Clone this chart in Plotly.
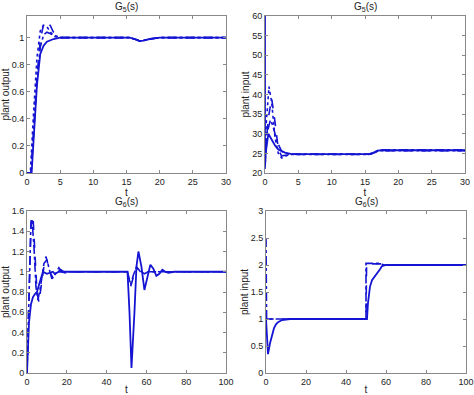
import plotly.graph_objects as go

BLUE = "#1414d2"

# ---------- G5 plant output ----------
t5o_solid = [0, 0.7, 1.0, 1.5, 2, 2.5, 3, 4, 5, 6, 15.5, 16.5, 17, 17.5, 18.5, 20, 30]
y5o_solid = [0, 0, 0.25, 0.65, 0.88, 0.94, 0.97, 0.99, 1.0, 1.0, 1.0, 0.985, 0.975, 0.978, 0.99, 1.0, 1.0]
t5o_dash = [0, 0.6, 1, 1.5, 2, 2.5, 3, 3.5, 4, 4.5, 5, 6, 15.5, 16.5, 17, 17.5, 18.5, 20, 30]
y5o_dash = [0, 0, 0.3, 0.7, 0.98, 1.1, 1.12, 1.09, 1.04, 1.01, 1.0, 1.0, 1.0, 0.985, 0.975, 0.978, 0.99, 1.0, 1.0]
t5o_dot = [0, 0.5, 1, 1.5, 2, 2.5, 3, 3.5, 4, 5, 6, 15.5, 16.5, 17, 17.5, 18.5, 20, 30]
y5o_dot = [0, 0, 0.45, 0.85, 1.05, 1.09, 1.08, 1.04, 1.01, 1.0, 1.0, 1.0, 0.985, 0.975, 0.978, 0.99, 1.0, 1.0]
t5o_dd = [0, 0.6, 1, 1.5, 2, 2.5, 3, 3.5, 4, 4.5, 5, 6, 15.5, 16.5, 17, 17.5, 18.5, 20, 30]
y5o_dd = [0, 0, 0.3, 0.7, 0.93, 1.02, 1.04, 1.03, 1.02, 1.01, 1.0, 1.0, 1.0, 0.985, 0.975, 0.978, 0.99, 1.0, 1.0]

# ---------- G5 plant input ----------
t5i_solid = [0, 0, 0.1, 0.5, 1, 1.5, 2, 3, 4, 15.5, 16, 16.5, 17, 17.5, 30]
y5i_solid = [60, 22, 25, 30, 28.5, 27, 26, 25.2, 24.8, 24.8, 25.0, 25.4, 25.7, 25.8, 25.8]
t5i_dash = [0, 0.2, 0.5, 1, 1.5, 2, 2.5, 3, 4, 15.5, 16, 16.5, 17, 17.5, 30]
y5i_dash = [21, 28, 34, 39, 33, 26, 24.3, 24.5, 24.7, 24.7, 24.9, 25.3, 25.6, 25.7, 25.7]
t5i_dot = [0, 0.2, 0.6, 1, 1.5, 2, 2.5, 3, 3.5, 4, 15.5, 16, 16.5, 17, 17.5, 30]
y5i_dot = [22, 33, 42, 38, 29, 25, 23.8, 24.2, 24.6, 24.7, 24.7, 24.9, 25.3, 25.6, 25.7, 25.7]
t5i_dd = [0, 0.3, 0.8, 1.2, 1.8, 2.5, 3.5, 15.5, 16, 16.5, 17, 17.5, 30]
y5i_dd = [22, 30, 33.5, 32, 28, 25.5, 24.8, 24.8, 25.0, 25.4, 25.8, 25.9, 25.9]

# ---------- G6 plant output ----------
t6o_solid = [0, 1, 2, 3, 4, 5, 6, 7, 8, 10, 12, 13, 14, 16, 50, 50.5, 51.5, 52.5, 54, 55, 56,
             57.5, 59, 60, 62, 63.5, 65, 66.5, 68, 69.5, 71, 74, 100]
y6o_solid = [0, 0.5, 0.68, 0.75, 0.78, 0.8, 0.87, 0.95, 1.0, 0.98, 0.99, 1.0, 0.98, 1.0, 1.0, 1.0,
             0.6, 0.05, 0.6, 1.05, 1.2, 1.05, 0.82, 0.9, 1.07, 1.03, 0.96, 0.98, 1.02, 1.0, 0.99, 1.0, 1.0]
t6o_dash = [0, 1, 2, 3, 4, 5, 6, 7, 8.5, 9.5, 11, 12.5, 14, 16, 17.5, 19, 21, 50, 50.5, 52,
            53.5, 55, 57, 58.5, 60, 100]
y6o_dash = [0, 0.8, 1.45, 1.55, 1.2, 0.8, 0.7, 0.85, 1.05, 1.15, 1.05, 0.93, 0.97, 1.04, 1.0,
            0.98, 1.0, 1.0, 1.0, 0.85, 0.95, 1.05, 1.0, 0.97, 1.0, 1.0]
t6o_dd = [0, 1, 2, 2.5, 3.5, 4.5, 5.5, 7, 8.5, 10, 11.5, 13, 15, 17, 19, 21, 50, 50.5, 52,
          53.5, 55, 57, 59, 61, 100]
y6o_dd = [0, 0.9, 1.5, 1.52, 1.25, 0.85, 0.72, 0.88, 1.08, 1.12, 1.0, 0.94, 1.0, 1.02, 0.99, 1.0,
          1.0, 1.0, 0.87, 0.97, 1.04, 1.01, 0.98, 1.0, 1.0]

# ---------- G6 plant input ----------
t6i_solid = [0, 0.5, 1, 2, 3, 4, 5, 6, 8, 10, 12, 50, 50.5, 51, 52, 53, 54, 55, 56, 57, 58, 60, 100]
y6i_solid = [1.0, 0.5, 0.35, 0.55, 0.72, 0.83, 0.9, 0.94, 0.98, 0.99, 1.0, 1.0, 1.0, 1.3, 1.6,
             1.72, 1.77, 1.8, 1.85, 1.92, 1.98, 2.0, 2.0]
t6i_dd = [0, 0.3, 0.8, 10, 50, 50, 57, 59, 100]
y6i_dd = [2.5, 1.0, 1.0, 1.0, 1.0, 2.03, 2.03, 2.0, 2.0]
t6i_dash = [0, 0.2, 0.6, 3, 8, 12, 50, 50.3, 58, 60, 100]
y6i_dash = [1.0, 0.98, 1.0, 1.0, 0.99, 1.0, 1.0, 2.02, 2.02, 2.0, 2.0]

W, H = 474, 395
def xd(a, b):
    return [a / W, b / W]
def yd(top, bot):
    return [1 - bot / H, 1 - top / H]

panels = [
    dict(x=xd(27, 226), y=yd(16, 173), xr=[0, 30], yr=[0, 1.16], xt=[0, 5, 10, 15, 20, 25, 30],
         yt=[0, 0.2, 0.4, 0.6, 0.8, 1], ytl=["0", "0.2", "0.4", "0.6", "0.8", "1"],
         ylab="plant output", title="G<sub>5</sub>(s)",
         series=[(t5o_dot, y5o_dot, "dot"), (t5o_dd, y5o_dd, "dashdot"), (t5o_dash, y5o_dash, "dash"),
                 (t5o_solid, y5o_solid, "solid")]),
    dict(x=xd(265, 465), y=yd(16, 173), xr=[0, 30], yr=[20, 60], xt=[0, 5, 10, 15, 20, 25, 30],
         yt=[20, 25, 30, 35, 40, 45, 50, 55, 60], ytl=None,
         ylab="plant input", title="G<sub>5</sub>(s)",
         series=[(t5i_dot, y5i_dot, "dot"), (t5i_dd, y5i_dd, "dashdot"), (t5i_dash, y5i_dash, "dash"),
                 (t5i_solid, y5i_solid, "solid")]),
    dict(x=xd(27, 226), y=yd(211, 373), xr=[0, 100], yr=[0, 1.6], xt=[0, 20, 40, 60, 80, 100],
         yt=[0, 0.2, 0.4, 0.6, 0.8, 1, 1.2, 1.4, 1.6],
         ytl=["0", "0.2", "0.4", "0.6", "0.8", "1", "1.2", "1.4", "1.6"],
         ylab="plant output", title="G<sub>6</sub>(s)",
         series=[(t6o_dd, y6o_dd, "dashdot"), (t6o_dash, y6o_dash, "dash"), (t6o_solid, y6o_solid, "solid")]),
    dict(x=xd(266, 466), y=yd(211, 373), xr=[0, 100], yr=[0, 3], xt=[0, 20, 40, 60, 80, 100],
         yt=[0, 0.5, 1, 1.5, 2, 2.5, 3], ytl=["0", "0.5", "1", "1.5", "2", "2.5", "3"],
         ylab="plant input", title="G<sub>6</sub>(s)",
         series=[(t6i_dash, y6i_dash, "dash"), (t6i_dd, y6i_dd, "dashdot"), (t6i_solid, y6i_solid, "solid")]),
]

fig = go.Figure()
FAM = "Liberation Sans, Arial, sans-serif"
font = dict(family=FAM, size=9, color="#222")
ann = []
for i, p in enumerate(panels, start=1):
    xa = "x" if i == 1 else f"x{i}"
    ya = "y" if i == 1 else f"y{i}"
    for t, y, d in p["series"]:
        fig.add_trace(go.Scatter(x=t, y=y, mode="lines", xaxis=xa, yaxis=ya, showlegend=False,
                                 line=dict(color=BLUE, width=1.6 if d != "solid" else 1.8, dash=d)))
    axcommon = dict(showgrid=False, zeroline=False, showline=True, linecolor="#888", linewidth=1,
                    mirror="ticks", ticks="inside", ticklen=3, tickcolor="#888", tickfont=font,
                    automargin=False)
    fig.layout[f"xaxis{'' if i == 1 else i}"] = dict(
        domain=p["x"], anchor=ya, range=p["xr"], tickvals=p["xt"],
        title=dict(text="t", font=dict(family=FAM, size=10, color="#222"), standoff=0),
        **axcommon)
    ykw = dict(domain=p["y"], anchor=xa, range=p["yr"], tickvals=p["yt"],
               title=dict(text=p["ylab"], font=dict(family=FAM, size=10, color="#222"), standoff=0),
               **axcommon)
    if p["ytl"]:
        ykw["ticktext"] = p["ytl"]
    fig.layout[f"yaxis{'' if i == 1 else i}"] = ykw
    ann.append(dict(text=p["title"], x=(p["x"][0] + p["x"][1]) / 2, y=p["y"][1], xref="paper", yref="paper",
                    xanchor="center", yanchor="bottom", yshift=1, showarrow=False,
                    font=dict(family=FAM, size=10, color="#222")))

fig.update_layout(width=W, height=H, margin=dict(l=0, r=0, t=0, b=0), paper_bgcolor="white",
                  plot_bgcolor="white", annotations=ann, template="none")
fig.write_html("out.html", config={"displayModeBar": False},
               post_script="document.body.style.margin='0';")
